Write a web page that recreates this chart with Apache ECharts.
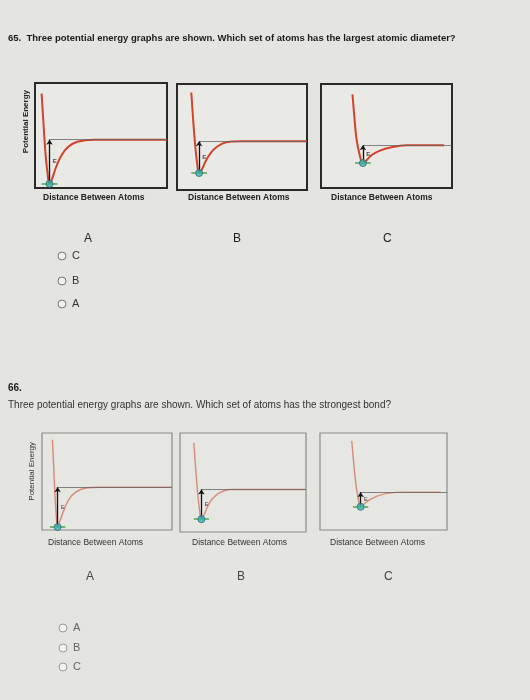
<!DOCTYPE html>
<html><head><meta charset="utf-8">
<script src="https://cdn.jsdelivr.net/npm/echarts@6/dist/echarts.min.js"></script>
<style>html,body{margin:0;padding:0;background:#e4e4e1}#c{width:530px;height:700px}</style>
</head><body><div id="c"></div>
<script>
// Curve data (panel units: x 0-100 distance, y 0-100 energy)
const curveA1 = [[5,90],[6.5,60],[8,32],[9.5,14],[11,4],[13,9],[16,20],[20,31],[25,39],[32,44],[45,46],[100,46]];
const curveB1 = [[11,92],[12.5,65],[14,42],[15.5,25],[17,16],[19,19],[22,27],[26,35],[31,41],[38,45],[50,46],[100,46]];
const curveC1 = [[24,90],[25.5,68],[27,48],[29.5,32],[32,24],[35,27],[39,32],[45,36],[53,39],[65,41],[94,41]];
const curveA2 = [[8,93],[9,65],[10,35],[11,14],[12,3],[14,10],[17,21],[21,32],[26,39],[33,43],[45,44],[100,44]];
const curveB2 = [[11,90],[12.5,63],[14,40],[15.5,22],[17,13],[19,17],[22,26],[26,34],[32,40],[40,43],[55,43],[100,43]];
const curveC2 = [[25,92],[26.5,70],[28,50],[30,33],[32,24],[35,27],[39,31],[45,35],[54,38],[66,39],[95,39]];
const minima = [[11,4,46],[17,16,46],[32,24,41],[12,3,44],[17,13,43],[32,24,39]];
const panelLetters = ['A','B','C'];
const options65 = ['C','B','A'];
const options66 = ['A','B','C'];
const axisTitleX = 'Distance Between Atoms';
const axisTitleY = 'Potential Energy';

const boxes = [
 [35,83,132,105],[177,84,130,106],[321,84,131,104],
 [42,433,130,97],[180,433,126,99],[320,433,127,97]
];
const curves = [curveA1,curveB1,curveC1,curveA2,curveB2,curveC2];
const grid=[],xAxis=[],yAxis=[],series=[];
boxes.forEach((b,i)=>{
  const top=i<3;
  grid.push({left:b[0],top:b[1],width:b[2],height:b[3],show:true,backgroundColor:top?'#e9e9e6':'#e6e6e3',
    borderColor:top?'#2a2a2a':'#8a8a88',borderWidth:top?2:1.2});
  xAxis.push({gridIndex:i,type:'value',min:0,max:100,show:false});
  yAxis.push({gridIndex:i,type:'value',min:0,max:100,show:false});
  const m=minima[i];
  series.push({type:'line',xAxisIndex:i,yAxisIndex:i,data:curves[i],smooth:0.4,symbol:'none',
    lineStyle:{color:top?'#d2432c':'#d98a7a',width:top?2:1.4},z:3,
    markLine:{silent:true,animation:false,label:{show:false},data:[
      [{coord:[m[0],m[2]],symbol:'none',lineStyle:{color:'#666',width:0.8,type:'solid'}},{coord:[100,m[2]],symbol:'none'}],
      [{coord:[m[0],m[1]],symbol:'none',lineStyle:{color:'#111',width:1.3,type:'solid'}},{coord:[m[0],m[2]],symbol:'arrow',symbolSize:5}],
      [{coord:[m[0]-6,m[1]],symbol:'none',lineStyle:{color:'#5aa050',width:1.5,type:'solid'}},{coord:[m[0]+6,m[1]],symbol:'none'}]
    ]}});
  series.push({type:'scatter',xAxisIndex:i,yAxisIndex:i,data:[[m[0],m[1]]],symbolSize:7,z:5,
    itemStyle:{color:'#3bb3b0',borderColor:'#2a6a70',borderWidth:1}});
  series.push({type:'scatter',xAxisIndex:i,yAxisIndex:i,data:[[m[0]+4,(m[1]+m[2])/2]],symbolSize:0,z:5,
    label:{show:true,formatter:'E',color:'#222',fontSize:6,fontWeight:top?'bold':'normal'}});
});
const g=[];
const T=(x,y,text,o={})=>g.push({type:'text',left:x,top:y,style:Object.assign({text,fill:'#222',font:'11px "Liberation Sans", Arial'},o)});
T(8,33,'65.  Three potential energy graphs are shown. Which set of atoms has the largest atomic diameter?',{font:'bold 9.5px "Liberation Sans", Arial',fill:'#1a1a1a'});
const lx1=[43,188,331], lx2=[48,192,330];
lx1.forEach(x=>T(x,193,axisTitleX,{font:'bold 8.5px "Liberation Sans", Arial'}));
lx2.forEach(x=>T(x,538,axisTitleX,{font:'8.5px "Liberation Sans", Arial',fill:'#333'}));
g.push({type:'text',left:22,top:90,rotation:Math.PI/2,originX:0,originY:0,style:{text:axisTitleY,fill:'#222',font:'bold 8px "Liberation Sans", Arial',x:0,y:0}});
g.push({type:'text',left:28,top:442,style:{text:axisTitleY,fill:'#333',font:'8px "Liberation Sans", Arial'},rotation:Math.PI/2});
[84,233,383].forEach((x,i)=>T(x,233,panelLetters[i],{font:'12px "Liberation Sans", Arial',fill:'#222'}));
[86,237,384].forEach((x,i)=>T(x,571,panelLetters[i],{font:'12px "Liberation Sans", Arial',fill:'#444'}));
[256,281,304].forEach((y,i)=>{g.push({type:'circle',shape:{cx:62,cy:y,r:4},style:{fill:'#f2f2f0',stroke:'#777',lineWidth:1}});T(72,y-6,options65[i],{font:'11px "Liberation Sans", Arial',fill:'#333'});});
[628,648,667].forEach((y,i)=>{g.push({type:'circle',shape:{cx:63,cy:y,r:4},style:{fill:'#f2f2f0',stroke:'#999',lineWidth:1}});T(73,y-6,options66[i],{font:'11px "Liberation Sans", Arial',fill:'#666'});});
T(8,383,'66.',{font:'bold 10px "Liberation Sans", Arial'});
T(8,400,'Three potential energy graphs are shown. Which set of atoms has the strongest bond?',{font:'10px "Liberation Sans", Arial',fill:'#333'});
const chart=echarts.init(document.getElementById('c'));
chart.setOption({backgroundColor:'#e4e4e1',animation:false,grid,xAxis,yAxis,series,graphic:g});
</script></body></html>
